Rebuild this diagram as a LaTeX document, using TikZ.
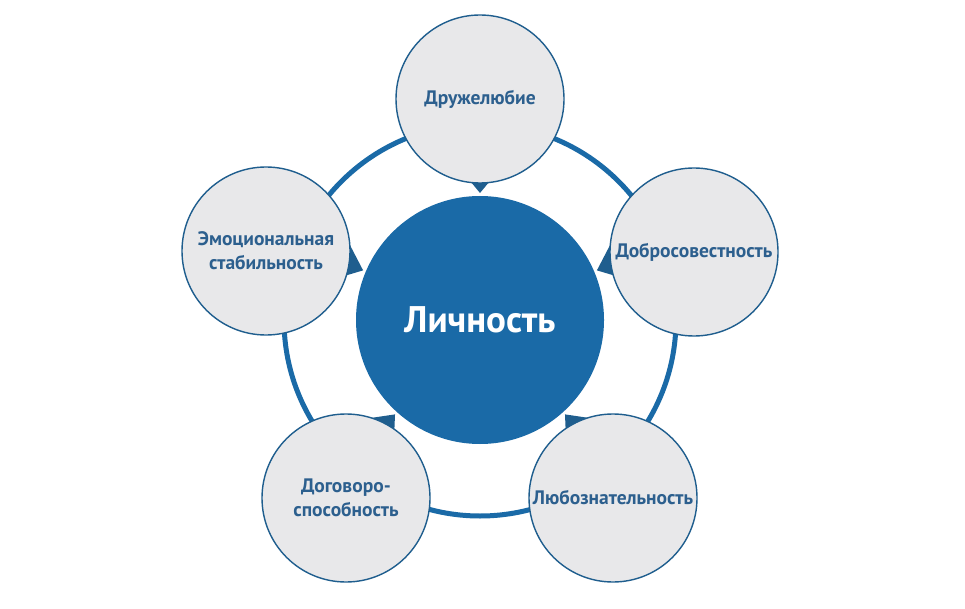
\documentclass[tikz,border=0pt]{standalone}
\usepackage{fontspec}
\setmainfont{PT Sans}
\usetikzlibrary{calc}
\definecolor{ringblue}{HTML}{1A6AA7}
\definecolor{edgeblue}{HTML}{1F5E8E}
\definecolor{txtblue}{HTML}{2C5F8E}
\definecolor{discgray}{HTML}{E8E8EA}
\tikzset{
  outerdisc/.style={circle, minimum size=168pt, inner sep=0pt, fill=discgray, draw=edgeblue, line width=1.4pt,
    text=txtblue, font=\bfseries\fontsize{19.5}{24}\selectfont, align=center},
  centerdisc/.style={circle, minimum size=248pt, inner sep=0pt, fill=ringblue,
    text=white, font=\bfseries\fontsize{37}{42}\selectfont},
  ringline/.style={draw=ringblue, line width=5pt},
  pointer/.style={fill=edgeblue, draw=none}
}
\begin{document}
\begin{tikzpicture}[x=1pt,y=1pt]
\useasboundingbox (0,0) rectangle (965,-609);
\fill[white] (0,0) rectangle (965,-609);
\coordinate (O) at (480,-320);
\draw[ringline] (O) circle (196);
\node[centerdisc] (c) at (O) {Личность};
\foreach \a in {90,23,157,-48,-132}{
  \fill[pointer] ($(O)+(\a:127)$) -- ($(O)+(\a:150)+(\a+90:19)$) -- ($(O)+(\a:150)+(\a-90:19)$) -- cycle;
}
\node[outerdisc] (n1) at (480,-99) {Дружелюбие};
\node[outerdisc] (n2) at (694,-252) {Добросовестность};
\node[outerdisc] (n3) at (613,-498) {Любознательность};
\node[outerdisc] (n4) at (346,-498) {Договоро-\\способность};
\node[outerdisc] (n5) at (266,-251) {Эмоциональная\\стабильность};
\end{tikzpicture}
\end{document}
